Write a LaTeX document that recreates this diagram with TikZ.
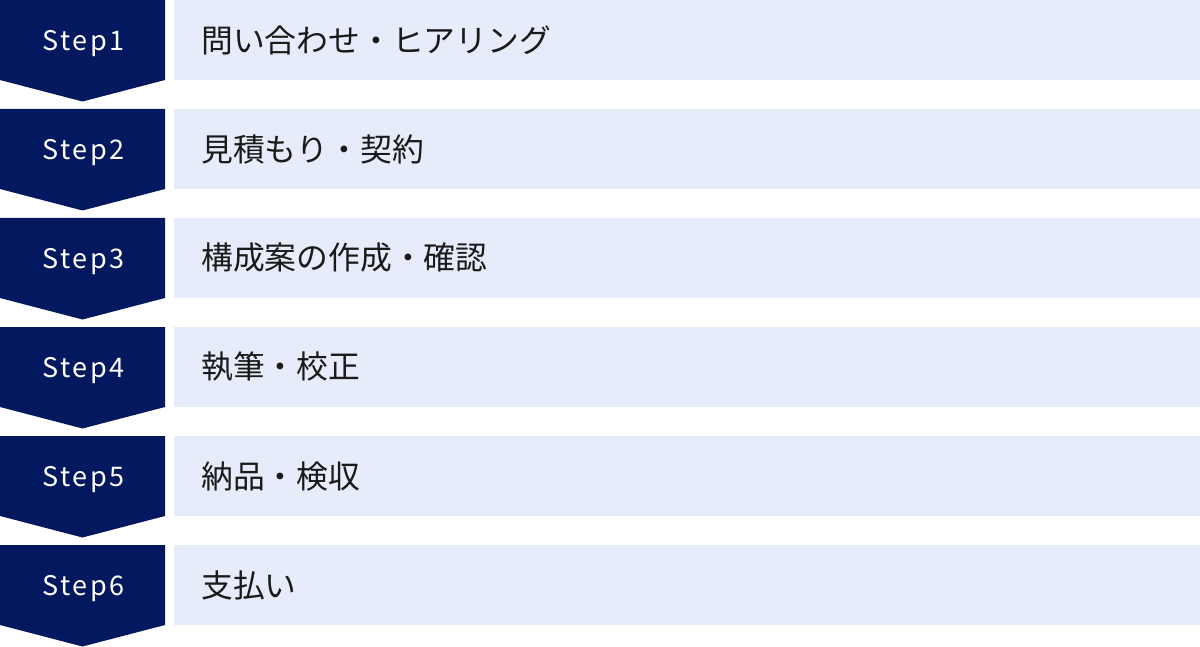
\documentclass[tikz,border=0pt]{standalone}
\usepackage{fontspec}
\setmainfont{Noto Sans CJK JP}
\newfontfamily\stepfont[LetterSpace=10]{Noto Sans CJK JP}
\usetikzlibrary{positioning}
\definecolor{stepnavy}{HTML}{03185F}
\definecolor{rowblue}{HTML}{E6ECF9}
\definecolor{tasktext}{HTML}{1A1A1A}
\tikzset{
  steplabel/.style={text=white,inner sep=0pt,font=\stepfont\fontsize{27}{30}\selectfont},
  tasklabel/.style={text=tasktext,inner sep=0pt,anchor=west,font=\fontsize{31.8}{36}\selectfont}
}

\begin{document}
\begin{tikzpicture}[x=1pt,y=-1pt]
  \useasboundingbox (0,0) rectangle (1200,647);
  \foreach \i/\txt in {1/問い合わせ・ヒアリング,2/見積もり・契約,3/構成案の作成・確認,4/執筆・校正,5/納品・検収,6/支払い}{
    \pgfmathsetmacro\top{(\i-1)*109}
    % badge with arrow tip
    \fill[stepnavy] (0,\top) -- (165,\top) -- (165,\top+80) -- (82.5,\top+101.5) -- (0,\top+80) -- cycle;
    \fill[rowblue] (174,\top) rectangle (1200,\top+80);
    \node[steplabel] (step\i) at (83.5,\top+44) {Step\i};
    \node[tasklabel] (task\i) at (201,\top+40) {\txt};
  }
\end{tikzpicture}
\end{document}
